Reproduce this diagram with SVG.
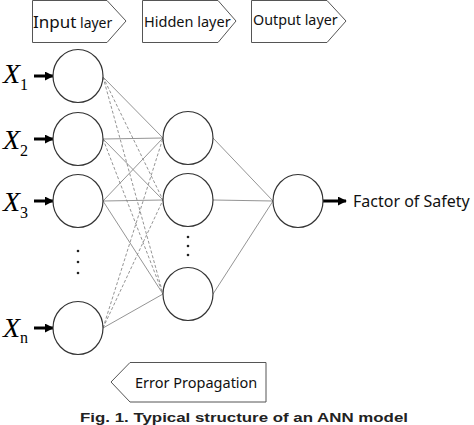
<svg xmlns="http://www.w3.org/2000/svg" width="474" height="425" viewBox="0 0 474 425">
<defs>
<style>
.tag{fill:#fff;stroke:#555;stroke-width:1}
.lbl{font-family:"Noto Sans","Open Sans",sans-serif;fill:#111}
.node{fill:#fff;stroke:#333;stroke-width:1.2}
.w{stroke:#888;stroke-width:0.9;fill:none}
.d{stroke:#888;stroke-width:0.9;fill:none;stroke-dasharray:3 2}
.arr{stroke:#000;stroke-width:3;fill:none;marker-end:url(#ah)}
.x{font-family:"Liberation Serif","Times New Roman",serif;font-style:italic;font-size:28px;fill:#000}
.sub{font-size:16px;font-style:normal}
.dot{fill:#222}
</style>
<marker id="ah" viewBox="0 0 10 10" refX="9" refY="5" markerWidth="3" markerHeight="3" orient="auto" markerUnits="strokeWidth">
<path d="M0,0 L10,5 L0,10 Z" fill="#000"/>
</marker>
</defs>
<rect width="474" height="425" fill="#fff"/>

<g id="tag-input">
<path class="tag" d="M32.5,0.5 H107 L126,21 L107,42.5 H32.5 Z"/>
<text class="lbl" x="33" y="28"><tspan font-size="17">Input</tspan><tspan font-size="14"> layer</tspan></text>
</g>
<g id="tag-hidden">
<path class="tag" d="M142.5,0.5 H218 L236,21 L218,42.5 H142.5 Z"/>
<text class="lbl" x="144" y="27" font-size="14.5">Hidden layer</text>
</g>
<g id="tag-output">
<path class="tag" d="M251.5,0.5 H327 L346,21 L327,42.5 H251.5 Z"/>
<text class="lbl" x="253" y="25" font-size="14.3">Output layer</text>
</g>

<g id="connectors">
<line class="w" x1="103" y1="77" x2="163" y2="138"/>
<line class="d" x1="103" y1="77" x2="163" y2="200"/>
<line class="d" x1="103" y1="77" x2="163" y2="294"/>
<line class="w" x1="103" y1="139" x2="163" y2="138"/>
<line class="w" x1="103" y1="139" x2="163" y2="200"/>
<line class="d" x1="103" y1="139" x2="163" y2="294"/>
<line class="w" x1="103" y1="201" x2="163" y2="138"/>
<line class="w" x1="103" y1="201" x2="163" y2="200"/>
<line class="w" x1="103" y1="201" x2="163" y2="294"/>
<line class="d" x1="103" y1="328" x2="163" y2="138"/>
<line class="d" x1="103" y1="328" x2="163" y2="200"/>
<line class="w" x1="103" y1="328" x2="163" y2="294"/>
<line class="w" x1="213" y1="138" x2="273" y2="201"/>
<line class="w" x1="213" y1="200" x2="273" y2="201"/>
<line class="w" x1="213" y1="294" x2="273" y2="201"/>
<line class="arr" x1="34" y1="76" x2="53" y2="76"/>
<line class="arr" x1="34" y1="139" x2="53" y2="139"/>
<line class="arr" x1="34" y1="201" x2="53" y2="201"/>
<line class="arr" x1="34" y1="328" x2="53" y2="328"/>
<line class="arr" x1="323" y1="201" x2="346" y2="201"/>
</g>

<g id="input-1"><ellipse class="node" cx="78" cy="76" rx="25" ry="26.5"/>
<text class="x" x="3" y="83">X<tspan class="sub" dy="7">1</tspan></text></g>
<g id="input-2"><ellipse class="node" cx="78" cy="139" rx="25" ry="26.5"/>
<text class="x" x="3" y="149">X<tspan class="sub" dy="7">2</tspan></text></g>
<g id="input-3"><ellipse class="node" cx="78" cy="201" rx="25" ry="26.5"/>
<text class="x" x="3" y="211">X<tspan class="sub" dy="7">3</tspan></text></g>
<g id="input-dots"><circle class="dot" cx="78" cy="251" r="1.3"/><circle class="dot" cx="78" cy="262" r="1.3"/><circle class="dot" cx="78" cy="273" r="1.3"/></g>
<g id="input-n"><ellipse class="node" cx="78" cy="328" rx="25" ry="26.5"/>
<text class="x" x="3" y="337">X<tspan class="sub" font-style="italic" dy="6">n</tspan></text></g>

<g id="hidden-1"><ellipse class="node" cx="188" cy="138" rx="25" ry="26.5"/></g>
<g id="hidden-2"><ellipse class="node" cx="188" cy="200" rx="25" ry="26.5"/></g>
<g id="hidden-dots"><circle class="dot" cx="188" cy="237" r="1.3"/><circle class="dot" cx="188" cy="246" r="1.3"/><circle class="dot" cx="188" cy="255" r="1.3"/></g>
<g id="hidden-m"><ellipse class="node" cx="188" cy="294" rx="25" ry="26.5"/></g>

<g id="output"><ellipse class="node" cx="298" cy="201" rx="25" ry="26.5"/>
<text class="lbl" x="353" y="207" font-size="16">Factor of Safety</text></g>

<g id="error-propagation">
<path class="tag" d="M111,382 L130,362.5 H266 V402 H130 Z"/>
<text class="lbl" x="135" y="388" font-size="14.5">Error Propagation</text>
</g>

<g id="caption">
<text x="80" y="421.5" textLength="328" lengthAdjust="spacingAndGlyphs" font-family="Liberation Sans, Arial, sans-serif" font-weight="bold" font-size="12" fill="#222">Fig. 1. Typical structure of an ANN model</text>
</g>
</svg>
